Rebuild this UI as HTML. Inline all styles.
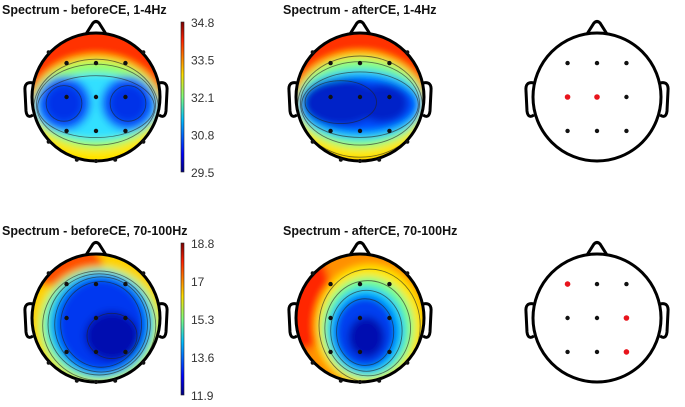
<!DOCTYPE html>
<html><head><meta charset="utf-8"><style>
html,body{margin:0;padding:0;background:#fff;}
svg{display:block;font-family:"Liberation Sans",Arial,sans-serif;}
</style></head><body>
<svg id="fig" width="685" height="407" viewBox="0 0 685 407">
<defs>
<linearGradient id="jet" x1="0" y1="1" x2="0" y2="0">
<stop offset="0" stop-color="#00007f"/><stop offset="0.12" stop-color="#0000ff"/><stop offset="0.35" stop-color="#00bfff"/><stop offset="0.5" stop-color="#7fff7f"/><stop offset="0.65" stop-color="#ffdf00"/><stop offset="0.88" stop-color="#ff2000"/><stop offset="1" stop-color="#7f0000"/>
</linearGradient>
<filter id="blur" x="-50%" y="-50%" width="200%" height="200%"><feGaussianBlur stdDeviation="4"/></filter>
</defs>
</svg>
<script>
const NS='http://www.w3.org/2000/svg';
const svg=document.getElementById('fig');
const titles=['Spectrum - beforeCE, 1-4Hz','Spectrum - afterCE, 1-4Hz','','Spectrum - beforeCE, 70-100Hz','Spectrum - afterCE, 70-100Hz',''];
const ticksTop=['34.8','33.5','32.1','30.8','29.5'];
const ticksBottom=['18.8','17','15.3','13.6','11.9'];
const centers=[[96,97],[360,97],[597,97],[96,318],[360,318],[597,318]];
const R=64;
const elecX=[-0.46,0,0.46];
const elecY=[-0.53,0,0.53];
const redTop=[[0,1],[1,1]];
const redBottom=[[0,0],[2,1],[2,2]];
// blobs: [x,y,rx,ry,color,contour] relative to head radius
const maps=[
 [[0,0,1.2,1.2,'#ff3000',0],[0,0.35,1.1,1.0,'#ff9800',0],[0,0.2,1.05,0.85,'#ffe600',1],[0,0.12,1.0,0.68,'#90ff70',1],[0,0.15,0.98,0.52,'#30e0ff',1],[0,0.3,0.95,0.22,'#30e0ff',0],[-0.5,0.1,0.42,0.42,'#1060ff',0],[0.5,0.1,0.42,0.42,'#1060ff',0],[-0.5,0.1,0.3,0.3,'#0030e8',1],[0.5,0.1,0.3,0.3,'#0030e8',1]],
 [[0,0,1.2,1.2,'#ff3000',0],[0,0.3,1.1,1.0,'#ffa000',0],[0,0.15,1.05,0.85,'#ffe800',1],[0,0.1,1.0,0.7,'#80ff80',1],[0,0.12,0.98,0.55,'#10c8ff',1],[0,0.12,0.9,0.44,'#0050ff',0],[-0.3,0.08,0.6,0.36,'#0020c8',1],[0.35,0.1,0.4,0.3,'#0020c8',0]],
 null,
 [[0,0,1.2,1.2,'#ffd000',0],[-0.6,-0.85,0.7,0.35,'#ff5000',0],[0.05,0.12,0.95,0.92,'#c0ff50',1],[0.05,0.1,0.86,0.85,'#30e8d0',1],[0.08,0.1,0.78,0.8,'#0090ff',1],[0.08,0.1,0.68,0.72,'#0038f0',1],[0.25,0.28,0.42,0.38,'#0010b0',1]],
 [[0,0,1.2,1.2,'#ff9000',0],[-0.9,-0.3,0.45,0.8,'#ff2800',0],[0.15,0.12,0.85,0.95,'#ffe800',1],[0.12,0.16,0.72,0.8,'#70ff90',1],[0.1,0.2,0.6,0.68,'#00c0ff',1],[0.08,0.22,0.48,0.56,'#0040f0',1],[0.1,0.3,0.28,0.32,'#0010b0',0]],
 null
];
function el(tag,attrs,parent){const e=document.createElementNS(NS,tag);for(const k in attrs)e.setAttribute(k,attrs[k]);(parent||svg).appendChild(e);return e;}
centers.forEach((c,i)=>{
  const [cx,cy]=c;
  const g=el('g',{});
  
  
  if(titles[i]){
    const t=el('text',{x:i%3===0?2:cx-77,y:cy-83,'font-size':'12.5','font-weight':'bold',fill:'#111'},g);
    t.textContent=titles[i];
    
    
  }
  const cid='clip'+i;
  const cp=el('clipPath',{id:cid},svg.querySelector('defs'));
  el('circle',{cx:cx,cy:cy,r:R},cp);
  if(maps[i]){
    const mg=el('g',{'clip-path':'url(#'+cid+')'},g);
    const bg=el('g',{filter:'url(#blur)'},mg);
    maps[i].forEach(b=>{
      const e=el('ellipse',{cx:cx+b[0]*R,cy:cy+b[1]*R,rx:b[2]*R,ry:b[3]*R,fill:b[4]},bg);
      
      
    });
    maps[i].filter(b=>b[5]).forEach(b=>{
      el('ellipse',{cx:cx+b[0]*R,cy:cy+b[1]*R,rx:b[2]*R*0.93,ry:b[3]*R*0.93,fill:'none',stroke:'#222','stroke-width':'0.9','stroke-opacity':'0.6'},mg);
    });
  } else {
    el('circle',{cx:cx,cy:cy,r:R,fill:'#fff'},g);
  }
  const o=el('g',{fill:'none',stroke:'#000','stroke-width':'3'},g);
  
  
  el('circle',{cx:cx,cy:cy,r:R},o);
  el('path',{d:`M${cx-10} ${cy-R+1} L${cx-3} ${cy-R-10} Q${cx} ${cy-R-13} ${cx+3} ${cy-R-10} L${cx+10} ${cy-R+1}`},o);
  el('path',{d:`M${cx-R+1} ${cy-14} Q${cx-R-8} ${cy-16} ${cx-R-7} ${cy-6} L${cx-R-6} ${cy+14} Q${cx-R-5} ${cy+22} ${cx-R+1} ${cy+18}`},o);
  el('path',{d:`M${cx+R-1} ${cy-14} Q${cx+R+8} ${cy-16} ${cx+R+7} ${cy-6} L${cx+R+6} ${cy+14} Q${cx+R+5} ${cy+22} ${cx+R-1} ${cy+18}`},o);
  const reds=i===2?redTop:i===5?redBottom:[];
  elecY.forEach((ey,r)=>elecX.forEach((ex,col)=>{
    const isRed=reds.some(p=>p[0]===col&&p[1]===r);
    const d=el('circle',{cx:cx+ex*R,cy:cy+ey*R,r:isRed?2.8:2.2,fill:isRed?'#e8141c':'#111'},g);
    
    
  }));
  if(maps[i]){
    [[-0.74,-0.7],[0.74,-0.7],[-0.74,0.7],[0.74,0.7],[-0.3,0.98],[0,1],[0.3,0.98]].forEach(p=>{
      el('circle',{cx:cx+p[0]*R,cy:cy+p[1]*R,r:2,fill:'#111'},g);
    });
  }
  if(i===0||i===3){
    const top=i===0?22:243, bot=i===0?172:395;
    const cb=el('rect',{x:181,y:top,width:3,height:bot-top,fill:'url(#jet)',stroke:'#222','stroke-width':'0.6'},g);
    
    
    const tk=i===0?ticksTop:ticksBottom;
    tk.forEach((s,k)=>{
      const y=top+k*(bot-top)/(tk.length-1);
      const t=el('text',{x:191,y:y+5,'font-size':'12',fill:'#333'},g);
      t.textContent=s;
      
      
    });
  }
});
</script>
</body></html>
